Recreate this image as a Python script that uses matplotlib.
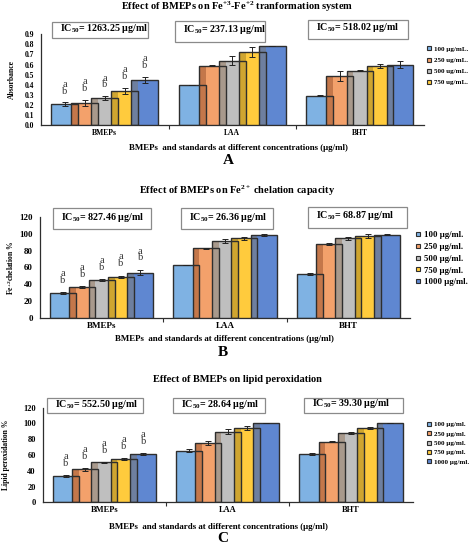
import matplotlib
matplotlib.use("Agg")
import matplotlib.pyplot as plt
from matplotlib.patches import Rectangle
from matplotlib.lines import Line2D
import numpy as np

# ---------------- data ----------------
groups = ["BMEPs", "LAA", "BHT"]

conc_a = ["100 µg/mL.", "250 ug/mL.", "500 ug/mL.", "750 ug/mL."]
conc_b = ["100 µg/ml.", "250 µg/ml.", "500 µg/ml.", "750 µg/ml.", "1000 µg/ml."]
conc_c = ["100 µg/ml.", "250 µg/ml.", "500 µg/ml.", "750 µg/ml.", "1000 µg/ml."]

# Panel A: Fe+3 -> Fe+2 transformation (absorbance)
a_bmeps = [0.205, 0.218, 0.265, 0.338, 0.447]
a_laa = [0.397, 0.586, 0.640, 0.722, 0.785]
a_bht = [0.288, 0.490, 0.536, 0.586, 0.600]
a_err_bmeps = [0.020, 0.030, 0.020, 0.030, 0.030]
a_err_laa = [0.0, 0.005, 0.040, 0.050, 0.0]
a_err_bht = [0.005, 0.050, 0.005, 0.018, 0.033]

# Panel B: Fe2+ chelation (%)
b_bmeps = [29.5, 37.0, 44.8, 48.8, 54.0]
b_laa = [63.0, 82.5, 91.5, 94.5, 98.4]
b_bht = [52.0, 88.0, 94.3, 97.2, 98.8]
b_err_bmeps = [1.0, 1.0, 1.2, 1.2, 3.0]
b_err_laa = [0.5, 1.0, 2.0, 1.5, 1.5]
b_err_bht = [1.0, 1.5, 1.5, 2.0, 0.5]

# Panel C: lipid peroxidation (%)
c_bmeps = [33.4, 41.8, 50.5, 55.0, 61.0]
c_laa = [65.5, 75.0, 89.5, 94.5, 100.0]
c_bht = [61.0, 77.0, 88.0, 94.5, 100.0]
c_err_bmeps = [1.5, 1.5, 1.0, 1.5, 1.0]
c_err_laa = [2.0, 2.5, 3.0, 2.5, 0.0]
c_err_bht = [1.0, 0.3, 1.0, 1.0, 0.0]

ic50_a = ["1263.25", "237.13", "518.02"]
ic50_b = ["827.46", "26.36", "68.87"]
ic50_c = ["552.50", "28.64", "39.30"]

sig_letters = ["a", "b"]

titles = [r"Effect of BMEPs on Fe$^{+3}$-Fe$^{+2}$ tranformation system",
          r"Effect of BMEPs on Fe$^{2+}$ chelation capacity",
          "Effect of BMEPs on lipid peroxidation"]
ylabels = ["Absorbance", r"Fe$^{+2}$chelation %", "Lipid peroxidation %"]
xlabel_text = "BMEPs  and standards at different concentrations (µg/ml)"
panel_letters = ["A", "B", "C"]

# ---------------- style ----------------
plt.rcParams['font.family'] = ['Liberation Serif', 'DejaVu Serif']
plt.rcParams['font.weight'] = 'bold'
plt.rcParams['mathtext.fontset'] = 'custom'
plt.rcParams['mathtext.rm'] = 'Liberation Serif:bold'
plt.rcParams['mathtext.it'] = 'Liberation Serif:italic:bold'
plt.rcParams['mathtext.bf'] = 'Liberation Serif:bold'

colors = ["#7fb2e3", "#f3a16b", "#bfbfbf", "#ffcb3d", "#5f87d1"]
strip_colors = ["#7fb2e3", "#c4774a", "#a8998c", "#cfa530", "#6e7f9f"]
edge = "#2e2e2e"

W, H = 474, 546
fig = plt.figure(figsize=(W / 100, H / 100), dpi=100)


def fx(px):
    return px / W


def fy(py):
    return 1 - py / H


panels = [
    dict(vals=[a_bmeps, a_laa, a_bht], errs=[a_err_bmeps, a_err_laa, a_err_bht],
         ic50=ic50_a, conc=conc_a, ylim=(0, 0.9), yticks=np.arange(0, 0.91, 0.1), yfmt="{:.1f}",
         ax=(41, 423.7, 34.3, 125), title_y=7, xlabel_y=148, letter_y=160, letter_x=228,
         xlabel_x=238, ylabel_x=12,
         boxes=[(52, 22, 148, 38), (175, 21, 265, 42), (308, 20, 408, 39)],
         leg=(427, 46, 5.0, 0.75), tickfs=5.5),
    dict(vals=[b_bmeps, b_laa, b_bht], errs=[b_err_bmeps, b_err_laa, b_err_bht],
         ic50=ic50_b, conc=conc_b, ylim=(0, 120), yticks=np.arange(0, 121, 20), yfmt="{:.0f}",
         ax=(40, 410, 216.7, 318.3), title_y=190.7, xlabel_y=339.3, letter_y=353, letter_x=223,
         xlabel_x=224, ylabel_x=10,
         boxes=[(53, 208.3, 151, 229.3), (181, 208.3, 273, 229.3), (307.5, 206.7, 407, 228.3)],
         leg=(415, 231, 6.3, 0.42), tickfs=6.5),
    dict(vals=[c_bmeps, c_laa, c_bht], errs=[c_err_bmeps, c_err_laa, c_err_bht],
         ic50=ic50_c, conc=conc_c, ylim=(0, 120), yticks=np.arange(0, 121, 20), yfmt="{:.0f}",
         ax=(42.7, 412.7, 407.7, 502.3), title_y=380, xlabel_y=526.7, letter_y=538.5, letter_x=223,
         xlabel_x=218, ylabel_x=6,
         boxes=[(46.7, 398.3, 143.3, 413.3), (173.3, 398.3, 265, 413.3), (304.3, 397.7, 403.3, 413.3)],
         leg=(427, 421.5, 5.0, 0.5), tickfs=6.0),
]

width = 0.21
step = 0.157
xg = np.arange(len(groups))
letter_text = "\n".join(sig_letters)

for pi, p in enumerate(panels):
    x0, x1, ytop, ybot = p["ax"]
    ax = fig.add_axes([fx(x0), fy(ybot), fx(x1) - fx(x0), fy(ytop) - fy(ybot)])
    n = len(p["vals"][0])
    for i in range(n):
        h = [p["vals"][g][i] for g in range(len(groups))]
        xs = xg + (i - 2) * step
        ax.bar(xs, h, width=width, color=colors[i], edgecolor='none', zorder=2 + i)
        if i > 0:
            ax.bar(xs - width / 2, h, width=width - step, align='edge',
                   color=strip_colors[i], edgecolor='none', zorder=2.5 + i)
    ymax = p["ylim"][1]
    for i in range(n):
        h = [p["vals"][g][i] for g in range(len(groups))]
        e = [p["errs"][g][i] for g in range(len(groups))]
        xs = xg + (i - 2) * step
        ax.bar(xs, h, width=width, facecolor='none', edgecolor=edge, linewidth=1.0, zorder=10)
        ax.errorbar(xs, h, yerr=e, fmt='none', ecolor='#222222', elinewidth=0.7,
                    capsize=2.0, capthick=0.7, zorder=11)
        # significance letters above BMEPs bars
        yb = p["vals"][0][i] + p["errs"][0][i] + 0.075 * ymax
        ax.text(xs[0], yb, letter_text, ha='center', va='bottom', fontsize=7.5,
                fontweight='normal', color='#333333', linespacing=0.7, zorder=12)

    ax.set_xlim(-0.5, 2.5)
    ax.set_ylim(*p["ylim"])
    ax.set_yticks(p["yticks"])
    ax.set_yticklabels([p["yfmt"].format(v) for v in p["yticks"]], fontsize=p["tickfs"])
    ax.set_xticks(xg)
    ax.set_xticklabels(groups, fontsize=p["tickfs"])
    ax.set_xticks([0.5, 1.5], minor=True)
    ax.tick_params(axis='x', which='major', length=0, pad=3)
    ax.tick_params(axis='x', which='minor', length=3, width=0.8, direction='out', color=edge)
    ax.tick_params(axis='y', length=0, pad=5)
    for s in ["top", "right"]:
        ax.spines[s].set_visible(False)
    for s in ["left", "bottom"]:
        ax.spines[s].set_color(edge)
        ax.spines[s].set_linewidth(0.9)
    ax.patch.set_alpha(0)

    # title, xlabel, letter, ylabel
    fig.text(fx(237), fy(p["title_y"]), titles[pi], ha='center', va='center', fontsize=7.5)
    fig.text(fx(p["xlabel_x"]), fy(p["xlabel_y"]), xlabel_text, ha='center', va='center',
             fontsize=6.4)
    fig.text(fx(p["letter_x"]), fy(p["letter_y"]), panel_letters[pi], ha='center', va='center',
             fontsize=11)
    fig.text(fx(p["ylabel_x"]), (fy(ytop) + fy(ybot)) / 2, ylabels[pi], rotation=90,
             ha='center', va='center', fontsize=5.5)

    # IC50 boxes
    for bi, (bx0, by0, bx1, by1) in enumerate(p["boxes"]):
        fig.add_artist(Rectangle((fx(bx0), fy(by1)), fx(bx1) - fx(bx0), fy(by0) - fy(by1),
                                 transform=fig.transFigure, facecolor='white',
                                 edgecolor='#8a8a8a', linewidth=0.9))
        fig.text(fx(bx0 + 8), (fy(by0) + fy(by1)) / 2 + 1.5 / H,
                 r"IC$_{\mathit{50}}$= " + p["ic50"][bi] + " µg/ml",
                 ha='left', va='center', fontsize=7.2)

    # legend
    lx, ly, lfs, lsp = p["leg"]
    handles = [Line2D([], [], marker='s', linestyle='none', markerfacecolor=colors[k],
                      markeredgecolor=edge, markersize=3.5, markeredgewidth=0.8)
               for k in range(len(p["conc"]))]
    fig.legend(handles, p["conc"], loc='upper left', bbox_to_anchor=(fx(lx), fy(ly)),
               frameon=False, fontsize=lfs, handlelength=0.7, handletextpad=0.3,
               borderpad=0, borderaxespad=0, labelspacing=lsp)

fig.savefig("out.png", dpi=100)
